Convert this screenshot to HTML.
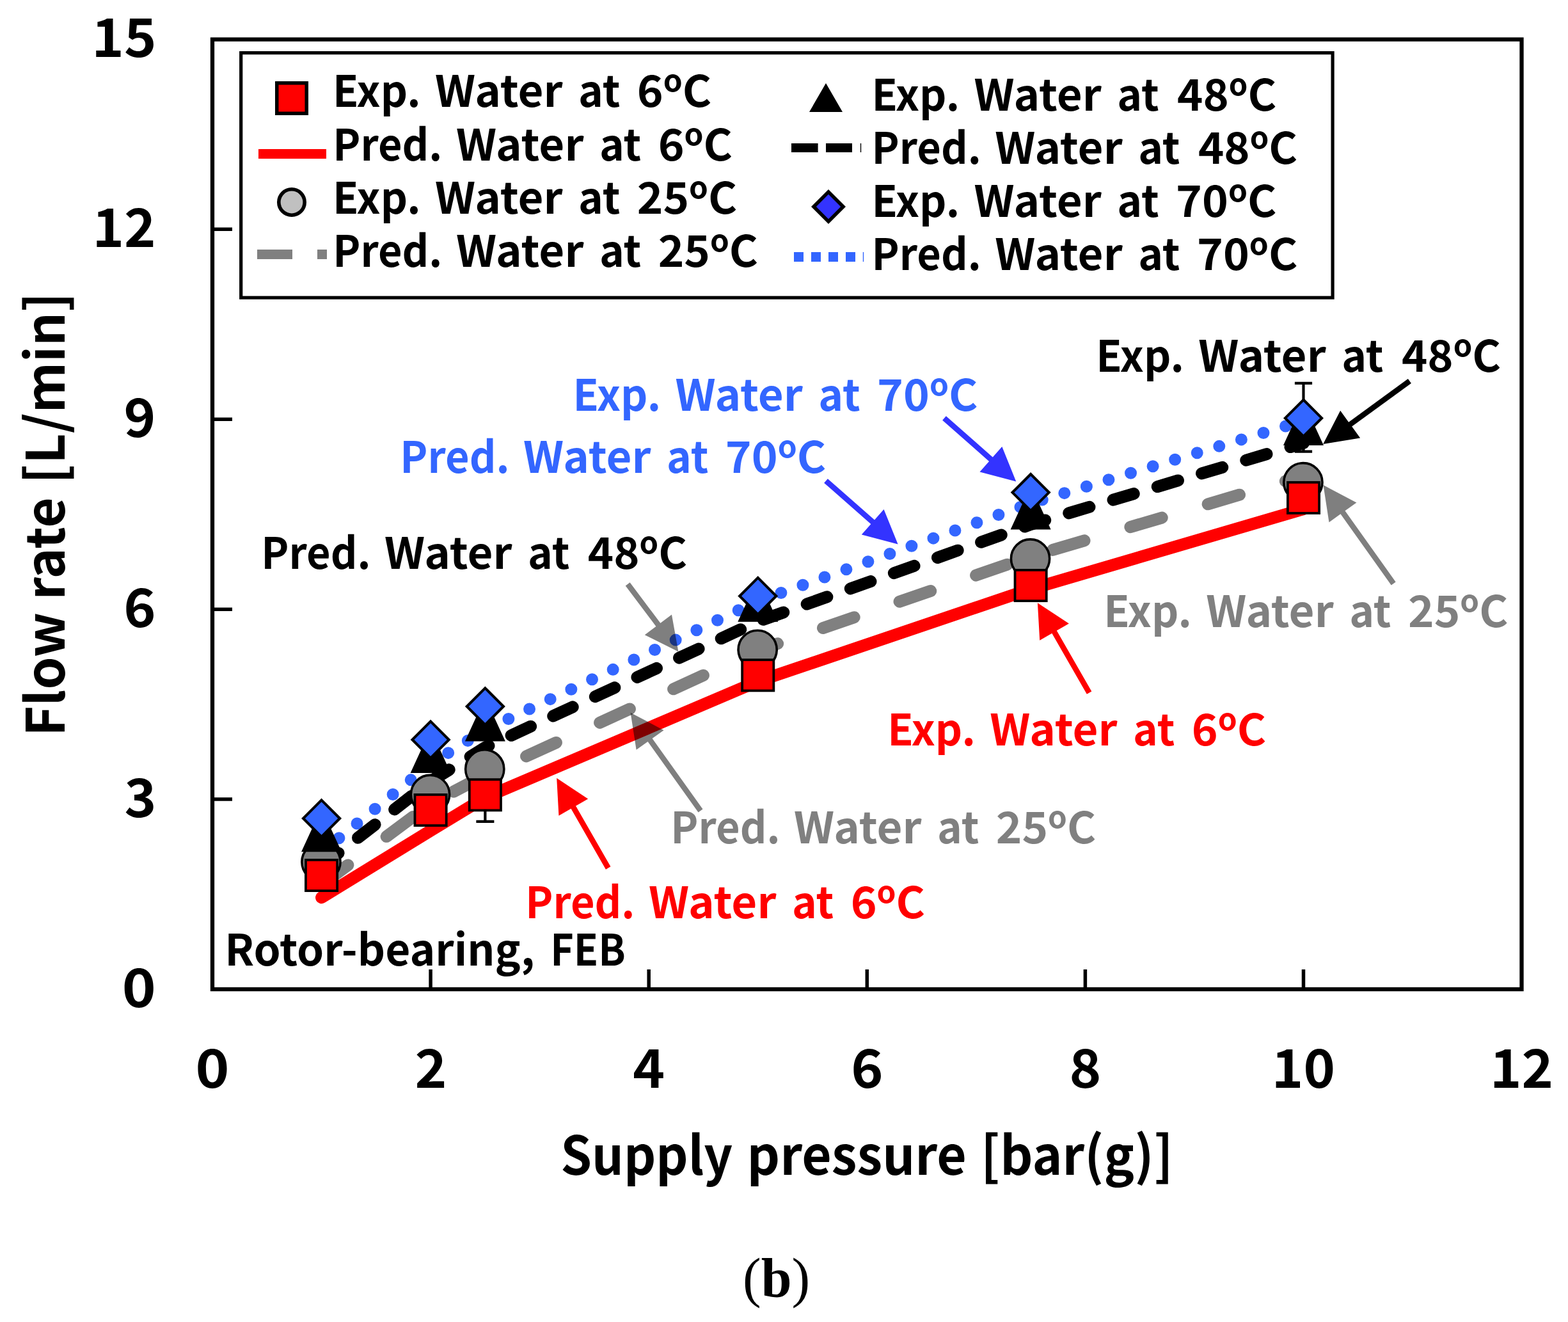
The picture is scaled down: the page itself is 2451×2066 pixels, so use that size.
<!DOCTYPE html>
<html><head><meta charset="utf-8"><title>Flow rate vs supply pressure</title><style>html,body{margin:0;padding:0;background:#fff;}svg{display:block;}</style></head><body>
<svg width="2451" height="2066" viewBox="0 0 2451 2066">
<rect x="0" y="0" width="2451" height="2066" fill="#ffffff"/>
<g fill="none" stroke-linejoin="round">
<polyline points="502.55,1332.03 673.1,1193.8 758.38,1140.71 1184.75,939.39 1611.12,786.59 2037.5,657.5" stroke="#3366FF" stroke-width="19" stroke-linecap="round" stroke-dasharray="0 36.12" stroke-dashoffset="0.84"/>
<polyline points="502.55,1353.73 673.1,1220.96 758.38,1168.06 1184.75,971.24 1611.12,819.65 2037.5,692.47" stroke="#000000" stroke-width="19" stroke-linecap="round" stroke-dasharray="33.6 38.67"/>
<polyline points="502.55,1382.65 673.1,1256.08 758.38,1211.23 1184.75,1016.44 1611.12,869.66 2037.5,743.65" stroke="#808080" stroke-width="19" stroke-linecap="round" stroke-dasharray="51.5 74.94"/>
<polyline points="502.55,1402.67 673.1,1298.18 758.38,1246.37 1184.75,1064.8 1611.12,920.54 2037.5,795.59" stroke="#FF0000" stroke-width="19" stroke-linecap="round"/>
</g>
<path d="M758.38,1242.3 V1283.8 M744.38,1283.8 H772.38" stroke="#000" stroke-width="4.2" fill="none"/>
<path d="M2037.5,598.8 V705.7 M2023.9,598.8 H2051.1 M2023.9,705.7 H2051.1" stroke="#000" stroke-width="4.2" fill="none"/>
<circle cx="501.95" cy="1347" r="30.1" fill="#808080" stroke="#000" stroke-width="3.6"/>
<circle cx="672.5" cy="1241.5" r="30.1" fill="#808080" stroke="#000" stroke-width="3.6"/>
<circle cx="757.77" cy="1201.9" r="30.1" fill="#808080" stroke="#000" stroke-width="3.6"/>
<circle cx="1184.15" cy="1015.3" r="30.1" fill="#808080" stroke="#000" stroke-width="3.6"/>
<circle cx="1610.53" cy="873" r="30.1" fill="#808080" stroke="#000" stroke-width="3.6"/>
<circle cx="2036.9" cy="753.7" r="30.1" fill="#808080" stroke="#000" stroke-width="3.6"/>
<polygon points="471.05,1331.3 534.05,1331.3 502.55,1262.8" fill="#000"/>
<polygon points="641.6,1208 704.6,1208 673.1,1139.5" fill="#000"/>
<polygon points="726.88,1158.6 789.88,1158.6 758.38,1090.1" fill="#000"/>
<polygon points="1153.25,971.7 1216.25,971.7 1184.75,903.2" fill="#000"/>
<polygon points="1579.62,827.5 1642.62,827.5 1611.12,759" fill="#000"/>
<polygon points="2006,696 2069,696 2037.5,627.5" fill="#000"/>
<polygon points="502.55,1250.4 531.15,1279 502.55,1307.6 473.95,1279" fill="#3366FF" stroke="#000" stroke-width="4.1"/>
<polygon points="673.1,1127.4 701.7,1156 673.1,1184.6 644.5,1156" fill="#3366FF" stroke="#000" stroke-width="4.1"/>
<polygon points="758.38,1075.4 786.98,1104 758.38,1132.6 729.77,1104" fill="#3366FF" stroke="#000" stroke-width="4.1"/>
<polygon points="1184.75,902.9 1213.35,931.5 1184.75,960.1 1156.15,931.5" fill="#3366FF" stroke="#000" stroke-width="4.1"/>
<polygon points="1611.12,741 1639.72,769.6 1611.12,798.2 1582.53,769.6" fill="#3366FF" stroke="#000" stroke-width="4.1"/>
<polygon points="2037.5,624.8 2066.1,653.4 2037.5,682 2008.9,653.4" fill="#3366FF" stroke="#000" stroke-width="4.1"/>
<rect x="477.95" y="1343.9" width="49.2" height="48.2" fill="#FF0000" stroke="#000" stroke-width="3.8"/>
<rect x="648.5" y="1241.9" width="49.2" height="48.2" fill="#FF0000" stroke="#000" stroke-width="3.8"/>
<rect x="733.77" y="1218.2" width="49.2" height="48.2" fill="#FF0000" stroke="#000" stroke-width="3.8"/>
<rect x="1160.15" y="1031.2" width="49.2" height="48.2" fill="#FF0000" stroke="#000" stroke-width="3.8"/>
<rect x="1586.53" y="890.9" width="49.2" height="48.2" fill="#FF0000" stroke="#000" stroke-width="3.8"/>
<rect x="2012.9" y="753.8" width="49.2" height="48.2" fill="#FF0000" stroke="#000" stroke-width="3.8"/>
<rect x="332" y="61.6" width="2046.5" height="1484.4" fill="none" stroke="#000" stroke-width="6.3"/>
<path d="M673.1,1546 V1515 M1014.2,1546 V1515 M1355.3,1546 V1515 M1696.4,1546 V1515 M2037.5,1546 V1515 M332,1249.09 H363 M332,952.18 H363 M332,655.27 H363 M332,358.36 H363" stroke="#000" stroke-width="5.5" fill="none"/>
<text transform="translate(305.47,1700) scale(1.0829,1)" font-family="'Noto Sans CJK KR', 'Liberation Sans', sans-serif" font-weight="bold" font-size="83">0</text>
<text transform="translate(648.62,1700) scale(1.0200,1)" font-family="'Noto Sans CJK KR', 'Liberation Sans', sans-serif" font-weight="bold" font-size="83">2</text>
<text transform="translate(989.21,1700) scale(1.0200,1)" font-family="'Noto Sans CJK KR', 'Liberation Sans', sans-serif" font-weight="bold" font-size="83">4</text>
<text transform="translate(1330.14,1700) scale(1.0268,1)" font-family="'Noto Sans CJK KR', 'Liberation Sans', sans-serif" font-weight="bold" font-size="83">6</text>
<text transform="translate(1671.41,1700) scale(1.0200,1)" font-family="'Noto Sans CJK KR', 'Liberation Sans', sans-serif" font-weight="bold" font-size="83">8</text>
<text transform="translate(1987.86,1700) scale(1.0126,1)" font-family="'Noto Sans CJK KR', 'Liberation Sans', sans-serif" font-weight="bold" font-size="83">10</text>
<text transform="translate(2329.02,1700) scale(1.0115,1)" font-family="'Noto Sans CJK KR', 'Liberation Sans', sans-serif" font-weight="bold" font-size="83">12</text>
<text transform="translate(190.77,1574) scale(1.0829,1)" font-family="'Noto Sans CJK KR', 'Liberation Sans', sans-serif" font-weight="bold" font-size="83">0</text>
<text transform="translate(194.62,1277.09) scale(1.0200,1)" font-family="'Noto Sans CJK KR', 'Liberation Sans', sans-serif" font-weight="bold" font-size="83">3</text>
<text transform="translate(193.29,980.18) scale(1.0268,1)" font-family="'Noto Sans CJK KR', 'Liberation Sans', sans-serif" font-weight="bold" font-size="83">6</text>
<text transform="translate(193.6,683.27) scale(1.0200,1)" font-family="'Noto Sans CJK KR', 'Liberation Sans', sans-serif" font-weight="bold" font-size="83">9</text>
<text transform="translate(144.42,386.36) scale(1.0115,1)" font-family="'Noto Sans CJK KR', 'Liberation Sans', sans-serif" font-weight="bold" font-size="83">12</text>
<text transform="translate(143.36,89.45) scale(1.0337,1)" font-family="'Noto Sans CJK KR', 'Liberation Sans', sans-serif" font-weight="bold" font-size="83">15</text>
<rect x="376.7" y="82.6" width="1706.4" height="382.6" fill="#fff" stroke="#000" stroke-width="5.2"/>
<rect x="432.75" y="129.75" width="46.5" height="47.5" fill="#FF0000" stroke="#000" stroke-width="5.5"/>
<rect x="404" y="233" width="106" height="15" fill="#FF0000"/>
<circle cx="456" cy="316" r="20.2" fill="#C0C0C0" stroke="#000" stroke-width="5.6"/>
<rect x="402" y="390" width="55" height="15" fill="#808080"/><rect x="496" y="390" width="15" height="15" fill="#808080"/>
<polygon points="1265,175 1317,175 1291,130" fill="#000"/>
<rect x="1237" y="224" width="41.6" height="14" fill="#000"/><rect x="1291" y="224" width="41" height="14" fill="#000"/><rect x="1344.8" y="224" width="1.4" height="14" fill="#000"/>
<polygon points="1295,299.9 1318.1,323 1295,346.1 1271.9,323" fill="#3333FF" stroke="#000" stroke-width="5.5"/>
<g fill="#3366FF"><rect x="1241" y="394" width="15" height="15"/><rect x="1268" y="394" width="15" height="15"/><rect x="1295" y="394" width="15" height="15"/><rect x="1322" y="394" width="15" height="15"/><rect x="1348.8" y="394" width="1.4" height="15"/></g>
<g><text transform="translate(520.08,166.7) scale(0.9702,1)" font-family="'Noto Sans CJK KR', 'Liberation Sans', sans-serif" font-weight="bold" font-size="68" fill="black">Exp.</text><text transform="translate(680.09,166.7) scale(1.0148,1)" font-family="'Noto Sans CJK KR', 'Liberation Sans', sans-serif" font-weight="bold" font-size="68" fill="black">Water</text><text transform="translate(904,166.7) scale(0.9683,1)" font-family="'Noto Sans CJK KR', 'Liberation Sans', sans-serif" font-weight="bold" font-size="68" fill="black">at</text><text transform="translate(995.74,166.7) scale(1.0202,1)" font-family="'Noto Sans CJK KR', 'Liberation Sans', sans-serif" font-weight="bold" font-size="68" fill="black">6<tspan font-size="47" dy="-24">o</tspan><tspan dy="24">C</tspan></text></g>
<g><text transform="translate(520.18,250.7) scale(0.9538,1)" font-family="'Noto Sans CJK KR', 'Liberation Sans', sans-serif" font-weight="bold" font-size="68" fill="black">Pred.</text><text transform="translate(712.99,250.7) scale(1.0148,1)" font-family="'Noto Sans CJK KR', 'Liberation Sans', sans-serif" font-weight="bold" font-size="68" fill="black">Water</text><text transform="translate(936.9,250.7) scale(0.9683,1)" font-family="'Noto Sans CJK KR', 'Liberation Sans', sans-serif" font-weight="bold" font-size="68" fill="black">at</text><text transform="translate(1028.64,250.7) scale(1.0202,1)" font-family="'Noto Sans CJK KR', 'Liberation Sans', sans-serif" font-weight="bold" font-size="68" fill="black">6<tspan font-size="47" dy="-24">o</tspan><tspan dy="24">C</tspan></text></g>
<g><text transform="translate(520.08,333.8) scale(0.9702,1)" font-family="'Noto Sans CJK KR', 'Liberation Sans', sans-serif" font-weight="bold" font-size="68" fill="black">Exp.</text><text transform="translate(680.09,333.8) scale(1.0148,1)" font-family="'Noto Sans CJK KR', 'Liberation Sans', sans-serif" font-weight="bold" font-size="68" fill="black">Water</text><text transform="translate(904,333.8) scale(0.9683,1)" font-family="'Noto Sans CJK KR', 'Liberation Sans', sans-serif" font-weight="bold" font-size="68" fill="black">at</text><text transform="translate(995.76,333.8) scale(1.0141,1)" font-family="'Noto Sans CJK KR', 'Liberation Sans', sans-serif" font-weight="bold" font-size="68" fill="black">25<tspan font-size="47" dy="-24">o</tspan><tspan dy="24">C</tspan></text></g>
<g><text transform="translate(520.18,416.9) scale(0.9538,1)" font-family="'Noto Sans CJK KR', 'Liberation Sans', sans-serif" font-weight="bold" font-size="68" fill="black">Pred.</text><text transform="translate(712.99,416.9) scale(1.0148,1)" font-family="'Noto Sans CJK KR', 'Liberation Sans', sans-serif" font-weight="bold" font-size="68" fill="black">Water</text><text transform="translate(936.9,416.9) scale(0.9683,1)" font-family="'Noto Sans CJK KR', 'Liberation Sans', sans-serif" font-weight="bold" font-size="68" fill="black">at</text><text transform="translate(1028.66,416.9) scale(1.0141,1)" font-family="'Noto Sans CJK KR', 'Liberation Sans', sans-serif" font-weight="bold" font-size="68" fill="black">25<tspan font-size="47" dy="-24">o</tspan><tspan dy="24">C</tspan></text></g>
<g><text transform="translate(1362.38,173.1) scale(0.9702,1)" font-family="'Noto Sans CJK KR', 'Liberation Sans', sans-serif" font-weight="bold" font-size="68" fill="black">Exp.</text><text transform="translate(1522.39,173.1) scale(1.0148,1)" font-family="'Noto Sans CJK KR', 'Liberation Sans', sans-serif" font-weight="bold" font-size="68" fill="black">Water</text><text transform="translate(1746.3,173.1) scale(0.9683,1)" font-family="'Noto Sans CJK KR', 'Liberation Sans', sans-serif" font-weight="bold" font-size="68" fill="black">at</text><text transform="translate(1840.09,173.1) scale(1.0066,1)" font-family="'Noto Sans CJK KR', 'Liberation Sans', sans-serif" font-weight="bold" font-size="68" fill="black">48<tspan font-size="47" dy="-24">o</tspan><tspan dy="24">C</tspan></text></g>
<g><text transform="translate(1362.48,255.7) scale(0.9538,1)" font-family="'Noto Sans CJK KR', 'Liberation Sans', sans-serif" font-weight="bold" font-size="68" fill="black">Pred.</text><text transform="translate(1555.29,255.7) scale(1.0148,1)" font-family="'Noto Sans CJK KR', 'Liberation Sans', sans-serif" font-weight="bold" font-size="68" fill="black">Water</text><text transform="translate(1779.2,255.7) scale(0.9683,1)" font-family="'Noto Sans CJK KR', 'Liberation Sans', sans-serif" font-weight="bold" font-size="68" fill="black">at</text><text transform="translate(1872.99,255.7) scale(1.0066,1)" font-family="'Noto Sans CJK KR', 'Liberation Sans', sans-serif" font-weight="bold" font-size="68" fill="black">48<tspan font-size="47" dy="-24">o</tspan><tspan dy="24">C</tspan></text></g>
<g><text transform="translate(1362.38,338.9) scale(0.9702,1)" font-family="'Noto Sans CJK KR', 'Liberation Sans', sans-serif" font-weight="bold" font-size="68" fill="black">Exp.</text><text transform="translate(1522.39,338.9) scale(1.0148,1)" font-family="'Noto Sans CJK KR', 'Liberation Sans', sans-serif" font-weight="bold" font-size="68" fill="black">Water</text><text transform="translate(1746.3,338.9) scale(0.9683,1)" font-family="'Noto Sans CJK KR', 'Liberation Sans', sans-serif" font-weight="bold" font-size="68" fill="black">at</text><text transform="translate(1838.04,338.9) scale(1.0208,1)" font-family="'Noto Sans CJK KR', 'Liberation Sans', sans-serif" font-weight="bold" font-size="68" fill="black">70<tspan font-size="47" dy="-24">o</tspan><tspan dy="24">C</tspan></text></g>
<g><text transform="translate(1362.48,422.4) scale(0.9538,1)" font-family="'Noto Sans CJK KR', 'Liberation Sans', sans-serif" font-weight="bold" font-size="68" fill="black">Pred.</text><text transform="translate(1555.29,422.4) scale(1.0148,1)" font-family="'Noto Sans CJK KR', 'Liberation Sans', sans-serif" font-weight="bold" font-size="68" fill="black">Water</text><text transform="translate(1779.2,422.4) scale(0.9683,1)" font-family="'Noto Sans CJK KR', 'Liberation Sans', sans-serif" font-weight="bold" font-size="68" fill="black">at</text><text transform="translate(1870.94,422.4) scale(1.0208,1)" font-family="'Noto Sans CJK KR', 'Liberation Sans', sans-serif" font-weight="bold" font-size="68" fill="black">70<tspan font-size="47" dy="-24">o</tspan><tspan dy="24">C</tspan></text></g>
<g><text transform="translate(1713.28,580.8) scale(0.9702,1)" font-family="'Noto Sans CJK KR', 'Liberation Sans', sans-serif" font-weight="bold" font-size="68" fill="black">Exp.</text><text transform="translate(1873.29,580.8) scale(1.0148,1)" font-family="'Noto Sans CJK KR', 'Liberation Sans', sans-serif" font-weight="bold" font-size="68" fill="black">Water</text><text transform="translate(2097.2,580.8) scale(0.9683,1)" font-family="'Noto Sans CJK KR', 'Liberation Sans', sans-serif" font-weight="bold" font-size="68" fill="black">at</text><text transform="translate(2190.99,580.8) scale(1.0066,1)" font-family="'Noto Sans CJK KR', 'Liberation Sans', sans-serif" font-weight="bold" font-size="68" fill="black">48<tspan font-size="47" dy="-24">o</tspan><tspan dy="24">C</tspan></text></g>
<g><text transform="translate(895.38,641.8) scale(0.9702,1)" font-family="'Noto Sans CJK KR', 'Liberation Sans', sans-serif" font-weight="bold" font-size="68" fill="#3366FF">Exp.</text><text transform="translate(1055.39,641.8) scale(1.0148,1)" font-family="'Noto Sans CJK KR', 'Liberation Sans', sans-serif" font-weight="bold" font-size="68" fill="#3366FF">Water</text><text transform="translate(1279.3,641.8) scale(0.9683,1)" font-family="'Noto Sans CJK KR', 'Liberation Sans', sans-serif" font-weight="bold" font-size="68" fill="#3366FF">at</text><text transform="translate(1371.04,641.8) scale(1.0208,1)" font-family="'Noto Sans CJK KR', 'Liberation Sans', sans-serif" font-weight="bold" font-size="68" fill="#3366FF">70<tspan font-size="47" dy="-24">o</tspan><tspan dy="24">C</tspan></text></g>
<g><text transform="translate(625.28,738.9) scale(0.9538,1)" font-family="'Noto Sans CJK KR', 'Liberation Sans', sans-serif" font-weight="bold" font-size="68" fill="#3366FF">Pred.</text><text transform="translate(818.09,738.9) scale(1.0148,1)" font-family="'Noto Sans CJK KR', 'Liberation Sans', sans-serif" font-weight="bold" font-size="68" fill="#3366FF">Water</text><text transform="translate(1042,738.9) scale(0.9683,1)" font-family="'Noto Sans CJK KR', 'Liberation Sans', sans-serif" font-weight="bold" font-size="68" fill="#3366FF">at</text><text transform="translate(1133.74,738.9) scale(1.0208,1)" font-family="'Noto Sans CJK KR', 'Liberation Sans', sans-serif" font-weight="bold" font-size="68" fill="#3366FF">70<tspan font-size="47" dy="-24">o</tspan><tspan dy="24">C</tspan></text></g>
<g><text transform="translate(408.28,888.6) scale(0.9538,1)" font-family="'Noto Sans CJK KR', 'Liberation Sans', sans-serif" font-weight="bold" font-size="68" fill="black">Pred.</text><text transform="translate(601.09,888.6) scale(1.0148,1)" font-family="'Noto Sans CJK KR', 'Liberation Sans', sans-serif" font-weight="bold" font-size="68" fill="black">Water</text><text transform="translate(825,888.6) scale(0.9683,1)" font-family="'Noto Sans CJK KR', 'Liberation Sans', sans-serif" font-weight="bold" font-size="68" fill="black">at</text><text transform="translate(918.79,888.6) scale(1.0066,1)" font-family="'Noto Sans CJK KR', 'Liberation Sans', sans-serif" font-weight="bold" font-size="68" fill="black">48<tspan font-size="47" dy="-24">o</tspan><tspan dy="24">C</tspan></text></g>
<g><text transform="translate(1725.28,979.9) scale(0.9702,1)" font-family="'Noto Sans CJK KR', 'Liberation Sans', sans-serif" font-weight="bold" font-size="68" fill="#808080">Exp.</text><text transform="translate(1885.29,979.9) scale(1.0148,1)" font-family="'Noto Sans CJK KR', 'Liberation Sans', sans-serif" font-weight="bold" font-size="68" fill="#808080">Water</text><text transform="translate(2109.2,979.9) scale(0.9683,1)" font-family="'Noto Sans CJK KR', 'Liberation Sans', sans-serif" font-weight="bold" font-size="68" fill="#808080">at</text><text transform="translate(2200.96,979.9) scale(1.0141,1)" font-family="'Noto Sans CJK KR', 'Liberation Sans', sans-serif" font-weight="bold" font-size="68" fill="#808080">25<tspan font-size="47" dy="-24">o</tspan><tspan dy="24">C</tspan></text></g>
<g><text transform="translate(1387.18,1164.9) scale(0.9702,1)" font-family="'Noto Sans CJK KR', 'Liberation Sans', sans-serif" font-weight="bold" font-size="68" fill="#FF0000">Exp.</text><text transform="translate(1547.19,1164.9) scale(1.0148,1)" font-family="'Noto Sans CJK KR', 'Liberation Sans', sans-serif" font-weight="bold" font-size="68" fill="#FF0000">Water</text><text transform="translate(1771.1,1164.9) scale(0.9683,1)" font-family="'Noto Sans CJK KR', 'Liberation Sans', sans-serif" font-weight="bold" font-size="68" fill="#FF0000">at</text><text transform="translate(1862.84,1164.9) scale(1.0202,1)" font-family="'Noto Sans CJK KR', 'Liberation Sans', sans-serif" font-weight="bold" font-size="68" fill="#FF0000">6<tspan font-size="47" dy="-24">o</tspan><tspan dy="24">C</tspan></text></g>
<g><text transform="translate(1048.28,1317.8) scale(0.9538,1)" font-family="'Noto Sans CJK KR', 'Liberation Sans', sans-serif" font-weight="bold" font-size="68" fill="#808080">Pred.</text><text transform="translate(1241.09,1317.8) scale(1.0148,1)" font-family="'Noto Sans CJK KR', 'Liberation Sans', sans-serif" font-weight="bold" font-size="68" fill="#808080">Water</text><text transform="translate(1465,1317.8) scale(0.9683,1)" font-family="'Noto Sans CJK KR', 'Liberation Sans', sans-serif" font-weight="bold" font-size="68" fill="#808080">at</text><text transform="translate(1556.76,1317.8) scale(1.0141,1)" font-family="'Noto Sans CJK KR', 'Liberation Sans', sans-serif" font-weight="bold" font-size="68" fill="#808080">25<tspan font-size="47" dy="-24">o</tspan><tspan dy="24">C</tspan></text></g>
<g><text transform="translate(821.18,1434.9) scale(0.9538,1)" font-family="'Noto Sans CJK KR', 'Liberation Sans', sans-serif" font-weight="bold" font-size="68" fill="#FF0000">Pred.</text><text transform="translate(1013.99,1434.9) scale(1.0148,1)" font-family="'Noto Sans CJK KR', 'Liberation Sans', sans-serif" font-weight="bold" font-size="68" fill="#FF0000">Water</text><text transform="translate(1237.9,1434.9) scale(0.9683,1)" font-family="'Noto Sans CJK KR', 'Liberation Sans', sans-serif" font-weight="bold" font-size="68" fill="#FF0000">at</text><text transform="translate(1329.64,1434.9) scale(1.0202,1)" font-family="'Noto Sans CJK KR', 'Liberation Sans', sans-serif" font-weight="bold" font-size="68" fill="#FF0000">6<tspan font-size="47" dy="-24">o</tspan><tspan dy="24">C</tspan></text></g>
<text transform="translate(351.34,1509) scale(0.9931,1)" font-family="'Noto Sans CJK KR', 'Liberation Sans', sans-serif" font-weight="bold" font-size="68" fill="#000">Rotor-bearing,</text>
<text transform="translate(860.18,1509) scale(0.9202,1)" font-family="'Noto Sans CJK KR', 'Liberation Sans', sans-serif" font-weight="bold" font-size="68" fill="#000">FEB</text>
<text transform="translate(876.23,1835.5) scale(0.9429,1)" font-family="'Noto Sans CJK KR', 'Liberation Sans', sans-serif" font-weight="bold" font-size="83" fill="#000">Supply</text>
<text transform="translate(1167.54,1835.5) scale(0.9664,1)" font-family="'Noto Sans CJK KR', 'Liberation Sans', sans-serif" font-weight="bold" font-size="83" fill="#000">pressure</text>
<text transform="translate(1533.01,1835.5) scale(0.9609,1)" font-family="'Noto Sans CJK KR', 'Liberation Sans', sans-serif" font-weight="bold" font-size="83" fill="#000">[bar(g)]</text>
<text transform="translate(101,1150.85) rotate(-90) scale(0.9818,1)" font-family="'Noto Sans CJK KR', 'Liberation Sans', sans-serif" font-weight="bold" font-size="83">Flow</text>
<text transform="translate(101,937.71) rotate(-90) scale(0.9868,1)" font-family="'Noto Sans CJK KR', 'Liberation Sans', sans-serif" font-weight="bold" font-size="83">rate</text>
<text transform="translate(101,756.15) rotate(-90) scale(0.9937,1)" font-family="'Noto Sans CJK KR', 'Liberation Sans', sans-serif" font-weight="bold" font-size="83">[L/min]</text>
<polygon points="2200.87,592.12 2108.12,659.63 2095.14,641.8 2068.2,694 2126.15,684.41 2113.18,666.58 2205.93,599.08" fill="#000"/>
<polygon points="1473.16,656.73 1546.06,720.93 1531.49,737.48 1588.3,752.4 1566.32,697.93 1551.74,714.48 1478.84,650.27" fill="#3333FF"/>
<polygon points="1288.16,754.63 1361.33,818.96 1346.77,835.52 1403.6,850.4 1381.57,795.95 1367.01,812.51 1293.84,748.17" fill="#3333FF"/>
<polygon points="977.76,915.38 1025.46,978.98 1007.82,992.21 1060.4,1018.4 1049.98,960.59 1032.34,973.82 984.64,910.22" fill="#000" fill-opacity="0.5"/>
<polygon points="2181.7,909.61 2102.46,798.37 2120.42,785.57 2068.5,758.1 2077.5,816.15 2095.46,803.36 2174.7,914.59" fill="#000" fill-opacity="0.5"/>
<polygon points="1706.33,1080.46 1651.79,985.57 1670.91,974.59 1621.9,942.2 1625.22,1000.85 1644.33,989.86 1698.87,1084.74" fill="#FF0000"/>
<polygon points="1098.5,1264.6 1019.58,1153.95 1037.54,1141.14 985.6,1113.7 994.63,1171.74 1012.58,1158.94 1091.5,1269.6" fill="#000" fill-opacity="0.5"/>
<polygon points="954.43,1354.36 900.04,1259.51 919.17,1248.54 870.2,1216.1 873.45,1274.75 892.58,1263.78 946.97,1358.64" fill="#FF0000"/>
<text x="1161.1" y="2025.8" font-family="'Liberation Serif', serif" font-size="86">(<tspan font-weight="bold">b</tspan>)</text>
</svg>
</body></html>
